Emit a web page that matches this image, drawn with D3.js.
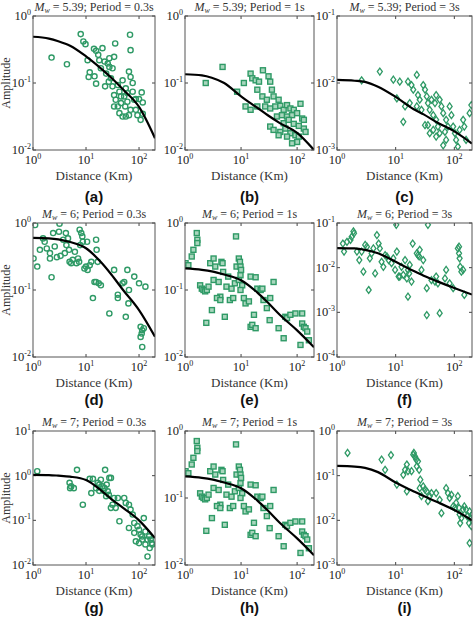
<!DOCTYPE html>
<html><head><meta charset="utf-8">
<script src="https://cdn.jsdelivr.net/npm/d3@7"></script>
<style>
body{margin:0;background:#fff}
.sf{font-family:"Liberation Serif","DejaVu Serif","Times New Roman",serif}
.lt{font-family:"Liberation Sans",Arial,sans-serif;font-weight:bold}
</style>
</head><body>
<svg id="fig" width="474" height="618"></svg>
<script>
/* Scatter data: [log10 distance, log10 amplitude] */
const ptsA = [[0.35,-0.62],[0.64,-0.72],[0.90,-0.27],[0.95,-0.38],[0.99,-0.42],[1.03,-0.66],[1.07,-0.84],[1.05,-0.91],[1.15,-0.49],[1.19,-0.52],[1.23,-0.58],[1.25,-0.66],[1.19,-1.01],[1.16,-0.90],[1.31,-0.48],[1.28,-0.78],[1.35,-0.68],[1.41,-0.71],[1.44,-0.63],[1.44,-0.76],[1.38,-0.86],[1.36,-1.05],[1.43,-0.98],[1.50,-0.78],[1.53,-0.61],[1.55,-0.41],[1.47,-0.93],[1.50,-1.05],[1.53,-1.18],[1.60,-1.03],[1.56,-1.25],[1.63,-1.13],[1.66,-1.30],[1.69,-0.96],[1.72,-1.20],[1.75,-1.08],[1.78,-1.28],[1.74,-1.35],[1.81,-0.83],[1.84,-0.91],[1.88,-1.00],[1.83,-0.28],[1.84,-0.51],[1.78,-1.15],[1.88,-1.13],[1.91,-1.25],[1.94,-1.40],[1.63,-1.45],[1.69,-1.50],[1.75,-1.50],[1.81,-1.48],[1.94,-1.24],[2.00,-1.24],[2.05,-1.14],[2.07,-1.29],[2.03,-1.55],[2.07,-1.46],[1.97,-1.48],[1.84,-1.40],[1.53,-1.35],[1.60,-1.35],[1.66,-1.20]];
const ptsB = [[0.37,-1.00],[0.67,-0.76],[0.93,-1.13],[1.05,-1.00],[1.17,-0.86],[1.20,-0.93],[1.26,-0.96],[1.32,-0.98],[1.39,-0.81],[1.49,-0.90],[1.52,-0.98],[1.29,-1.10],[1.38,-1.20],[1.46,-1.25],[1.55,-1.10],[1.58,-1.20],[1.67,-1.25],[1.08,-1.35],[1.17,-1.40],[1.29,-1.35],[1.43,-1.35],[1.52,-1.38],[1.61,-1.35],[1.70,-1.34],[1.76,-1.40],[1.82,-1.33],[1.88,-1.38],[1.94,-1.40],[2.06,-1.31],[1.64,-1.50],[1.73,-1.48],[1.82,-1.50],[1.91,-1.48],[2.00,-1.45],[2.09,-1.53],[2.12,-1.68],[1.52,-1.65],[1.58,-1.70],[1.70,-1.73],[1.79,-1.68],[1.88,-1.75],[1.97,-1.78],[2.03,-1.80],[2.15,-1.73],[1.76,-1.60],[1.85,-1.55],[1.94,-1.61],[2.03,-1.64],[1.67,-1.78],[1.82,-1.80],[2.00,-1.88],[1.91,-1.90],[2.12,-1.55]];
const ptsC = [[0.42,-1.96],[0.73,-1.83],[0.96,-1.95],[1.07,-1.98],[1.02,-2.23],[1.13,-2.58],[1.16,-2.35],[1.21,-1.98],[1.27,-2.03],[1.30,-2.10],[1.36,-1.88],[1.38,-2.18],[1.24,-2.30],[1.41,-2.25],[1.47,-2.03],[1.50,-2.10],[1.53,-2.20],[1.55,-2.30],[1.58,-2.40],[1.44,-2.40],[1.36,-2.35],[1.61,-2.25],[1.67,-2.30],[1.69,-2.18],[1.75,-2.25],[1.78,-2.35],[1.81,-2.45],[1.86,-2.55],[1.89,-2.65],[1.84,-2.73],[1.64,-2.48],[1.69,-2.55],[1.72,-2.65],[1.75,-2.75],[1.69,-2.80],[1.64,-2.70],[1.55,-2.63],[1.50,-2.63],[1.58,-2.75],[1.92,-2.35],[1.95,-2.48],[1.98,-2.65],[2.01,-2.75],[2.03,-2.85],[1.86,-2.85],[1.81,-2.93],[2.09,-2.70],[2.15,-2.55],[2.17,-2.65],[2.20,-2.85],[2.26,-2.45],[2.29,-2.33],[2.06,-2.95]];
const ptsD = [[0.01,-0.53],[0.04,-0.03],[0.08,-0.65],[0.13,-0.40],[0.19,-0.23],[0.22,-0.28],[0.26,-0.38],[0.32,-0.45],[0.32,-0.53],[0.35,-0.81],[0.38,-0.15],[0.41,-0.35],[0.45,-0.51],[0.49,-0.13],[0.50,-0.01],[0.52,-0.49],[0.57,-0.25],[0.60,-0.45],[0.62,-0.15],[0.63,-0.33],[0.66,-0.23],[0.68,-0.40],[0.69,-0.58],[0.72,-0.60],[0.75,-0.55],[0.79,-0.43],[0.82,-0.60],[0.85,-0.53],[0.87,-0.58],[0.88,-0.10],[0.89,-0.33],[0.91,-0.15],[0.93,-0.20],[0.94,-0.28],[0.97,-0.68],[1.00,-0.65],[1.02,-0.28],[1.03,-0.70],[1.07,-0.63],[1.10,-0.58],[1.19,-0.25],[1.20,-0.40],[1.22,-0.58],[1.16,-0.88],[1.19,-0.88],[1.24,-0.90],[1.28,-0.93],[1.13,-1.12],[1.44,-1.35],[1.53,-0.70],[1.60,-1.07],[1.60,-1.12],[1.69,-0.90],[1.72,-0.88],[1.75,-1.40],[1.78,-0.70],[1.81,-1.00],[1.80,-1.20],[1.91,-0.80],[2.00,-0.90],[2.12,-0.95],[2.03,-1.55],[2.05,-1.65],[2.06,-1.60],[2.03,-1.70],[2.06,-1.85],[2.09,-1.57]];
const ptsE = [[0.01,-0.60],[0.06,-0.63],[0.12,-0.50],[0.15,-0.40],[0.21,-0.15],[0.22,-0.25],[0.22,-0.30],[0.27,-0.93],[0.30,-0.98],[0.33,-1.00],[0.36,-1.02],[0.39,-1.00],[0.38,-1.49],[0.42,-0.95],[0.45,-0.60],[0.48,-1.30],[0.51,-0.53],[0.54,-0.65],[0.51,-0.85],[0.60,-0.88],[0.63,-1.10],[0.57,-1.12],[0.65,-0.58],[0.67,-0.60],[0.68,-0.73],[0.63,-1.15],[0.71,-1.40],[0.74,-0.95],[0.77,-0.80],[0.80,-1.15],[0.83,-0.98],[0.86,-1.12],[0.89,-0.90],[0.91,-0.20],[0.92,-0.65],[0.96,-0.53],[0.98,-0.58],[0.99,-0.65],[1.00,-0.70],[0.99,-0.78],[0.96,-0.85],[1.02,-0.93],[0.99,-1.00],[1.05,-1.12],[1.08,-1.20],[1.14,-1.17],[1.17,-0.80],[1.26,-0.81],[1.29,-0.98],[1.35,-1.00],[1.38,-0.98],[1.40,-1.15],[1.52,-1.12],[1.46,-1.27],[1.58,-0.88],[1.23,-1.37],[1.17,-1.55],[1.20,-1.52],[1.26,-1.57],[1.51,-1.45],[1.67,-1.57],[1.76,-1.72],[1.79,-1.40],[1.82,-1.42],[1.88,-1.37],[1.97,-1.35],[2.09,-1.35],[2.09,-1.50],[2.12,-1.55],[2.15,-1.57],[2.06,-1.82],[2.21,-1.75],[2.18,-1.62]];
const ptsF = [[0.10,-1.46],[0.12,-1.64],[0.17,-1.42],[0.23,-1.38],[0.25,-1.31],[0.28,-1.19],[0.29,-1.23],[0.34,-1.64],[0.38,-1.83],[0.42,-1.64],[0.45,-2.09],[0.48,-1.49],[0.51,-1.53],[0.54,-2.50],[0.56,-1.79],[0.59,-1.68],[0.62,-1.57],[0.65,-2.13],[0.68,-1.27],[0.71,-1.46],[0.73,-1.57],[0.76,-1.87],[0.79,-1.98],[0.82,-1.72],[0.85,-1.75],[0.88,-1.83],[0.93,-1.90],[0.96,-1.79],[0.99,-2.05],[1.01,-1.04],[1.02,-1.64],[1.05,-2.20],[1.07,-2.20],[1.10,-1.98],[1.13,-2.16],[1.16,-1.83],[1.19,-2.24],[1.21,-2.05],[1.23,-2.13],[1.24,-1.94],[1.27,-2.31],[1.21,-2.65],[1.29,-1.46],[1.36,-1.68],[1.38,-1.72],[1.40,-1.75],[1.41,-1.60],[1.44,-2.05],[1.47,-1.83],[1.53,-3.06],[1.55,-1.04],[1.53,-2.46],[1.61,-2.28],[1.67,-2.31],[1.69,-2.20],[1.72,-2.35],[1.75,-3.02],[1.84,-2.24],[1.86,-2.05],[1.92,-2.35],[1.98,-2.46],[2.06,-1.57],[2.08,-1.68],[2.09,-1.79],[2.10,-1.98],[2.12,-2.09],[2.15,-2.05],[2.17,-2.61],[2.08,-1.53]];
const ptsG = [[0.08,0.10],[0.69,-0.16],[0.72,-0.24],[0.70,-0.28],[0.77,-0.28],[0.83,0.13],[0.94,-0.65],[1.07,-0.07],[1.13,-0.07],[1.10,-0.39],[1.19,-0.28],[1.22,-0.16],[1.25,-0.20],[1.28,-0.09],[1.31,-0.24],[1.35,-0.28],[1.36,0.13],[1.39,-0.20],[1.41,-0.35],[1.43,-0.43],[1.38,-0.46],[1.33,-0.34],[1.25,-0.34],[1.44,-0.05],[1.47,-0.05],[1.50,-0.65],[1.47,-0.72],[1.53,-0.50],[1.56,-0.72],[1.60,-0.50],[1.63,-1.02],[1.72,-0.50],[1.81,-0.65],[1.75,-0.61],[1.84,-0.76],[1.88,-0.87],[1.91,-1.06],[1.81,-1.17],[1.91,-1.28],[1.94,-1.47],[1.97,-1.13],[2.00,-1.21],[2.03,-1.32],[2.06,-1.36],[2.09,-0.95],[2.12,-1.25],[2.16,-1.43],[2.12,-1.54],[2.19,-1.36],[2.22,-1.43],[2.24,-1.51],[2.20,-1.62],[2.16,-1.81],[2.25,-1.54],[2.00,-1.51],[2.06,-1.43]];
const ptsH = ptsE;
const ptsI = [[0.18,-0.49],[0.76,-0.64],[0.82,-0.87],[0.92,-0.54],[1.02,-1.20],[1.13,-0.98],[1.16,-0.87],[1.19,-0.75],[1.21,-0.90],[1.19,-1.35],[1.27,-0.90],[1.30,-0.53],[1.31,-0.49],[1.33,-0.57],[1.35,-0.64],[1.36,-0.79],[1.38,-0.68],[1.40,-0.87],[1.42,-1.09],[1.41,-1.28],[1.44,-1.46],[1.47,-1.24],[1.50,-1.31],[1.53,-1.35],[1.55,-1.57],[1.58,-1.46],[1.61,-1.39],[1.69,-1.39],[1.75,-1.54],[1.78,-1.84],[1.86,-1.28],[1.89,-1.39],[1.92,-1.50],[1.95,-1.43],[1.98,-1.69],[2.01,-1.72],[2.03,-1.61],[2.06,-1.46],[2.08,-1.72],[2.09,-1.87],[2.10,-2.06],[2.12,-1.95],[2.15,-1.76],[2.17,-1.69],[2.20,-1.76],[2.22,-1.91],[2.25,-2.06],[2.26,-1.80],[2.29,-2.13],[2.28,-1.95],[2.26,-2.51],[2.30,-1.87]];

/* Fitted curves: distances (km) and amplitudes */
const curveDist = [1, 2, 3, 5, 10, 20, 30, 50, 100, 200];
const curveA = [0.49, 0.46, 0.42, 0.36, 0.25, 0.16, 0.12, 0.08, 0.044, 0.015];
const curveB = [0.135, 0.13, 0.12, 0.1, 0.063, 0.042, 0.033, 0.025, 0.018, 0.01];
const curveC = [0.0111, 0.0108, 0.0104, 0.0088, 0.0062, 0.0041, 0.0034, 0.0026, 0.0019, 0.00125];
const curveD = [0.6, 0.59, 0.57, 0.52, 0.42, 0.25, 0.17, 0.1, 0.05, 0.02];
const curveE = [0.21, 0.2, 0.19, 0.17, 0.14, 0.09, 0.065, 0.042, 0.025, 0.014];
const curveF = [0.0275, 0.027, 0.025, 0.021, 0.0135, 0.0085, 0.0066, 0.005, 0.0035, 0.0025];
const curveG = [1.04, 1.03, 1.0, 0.95, 0.8, 0.45, 0.3, 0.19, 0.1, 0.04];
const curveI = [0.165, 0.16, 0.15, 0.12, 0.07, 0.045, 0.035, 0.026, 0.017, 0.01];

const titleMw = ["5.39", "5.39", "5.39", "6", "6", "6", "7", "7", "7"];
const titlePeriod = ["0.3s", "1s", "3s", "0.3s", "1s", "3s", "0.3s", "1s", "3s"];
const panelLetters = ["(a)", "(b)", "(c)", "(d)", "(e)", "(f)", "(g)", "(h)", "(i)"];
const yExpRanges = [[-2, 0], [-2, 0], [-3, -1], [-2, 0], [-2, 0], [-4, -1], [-2, 1], [-2, 0], [-3, 0]];
const xExpTicks = [0, 1, 2];

const allPts = [ptsA, ptsB, ptsC, ptsD, ptsE, ptsF, ptsG, ptsH, ptsI];
const allCurves = [curveA, curveB, curveC, curveD, curveE, curveF, curveG, curveE, curveI];
const markers = ["circle", "square", "diamond"];

/* Layout */
const colX = [[33, 155], [185, 314], [337, 472]];
const rowY = [[16, 150], [223, 357], [431, 565]];
const green = "#2f9a66";

const svg = d3.select("#fig");

function expLabel(sel, e) {
    sel.append("tspan").text("10");
    sel.append("tspan").attr("dy", -5).style("font-size", "8px").text(e);
}

allPts.forEach((pts, i) => {
    const c = i % 3, r = Math.floor(i / 3);
    const [x0, x1] = colX[c], [y0, y1] = rowY[r];
    const [ylo, yhi] = yExpRanges[i];
    const x = d3.scaleLog().domain([1, 200]).range([x0, x1]);
    const y = d3.scaleLog().domain([Math.pow(10, ylo), Math.pow(10, yhi)]).range([y1, y0]);
    const g = svg.append("g");

    g.append("defs").append("clipPath").attr("id", "clip" + i)
        .append("rect").attr("x", x0).attr("y", y0).attr("width", x1 - x0).attr("height", y1 - y0);

    /* ticks inward on all sides */
    const yTicks = d3.range(ylo, yhi + 1);
    xExpTicks.forEach(e => {
        const px = x(Math.pow(10, e));
        g.append("line").attr("x1", px).attr("x2", px).attr("y1", y1).attr("y2", y1 - 3).attr("stroke", "#444");
        g.append("line").attr("x1", px).attr("x2", px).attr("y1", y0).attr("y2", y0 + 3).attr("stroke", "#444");
        const t = g.append("text").attr("class", "sf").attr("x", px).attr("y", y1 + 14).attr("text-anchor", "middle")
            .style("font-size", "12.5px").attr("fill", "#222");
        expLabel(t, e);
    });
    yTicks.forEach(e => {
        const py = y(Math.pow(10, e));
        g.append("line").attr("x1", x0).attr("x2", x0 + 3).attr("y1", py).attr("y2", py).attr("stroke", "#444");
        g.append("line").attr("x1", x1).attr("x2", x1 - 3).attr("y1", py).attr("y2", py).attr("stroke", "#444");
        const t = g.append("text").attr("class", "sf").attr("x", x0 - 2).attr("y", py + 4).attr("text-anchor", "end")
            .style("font-size", "12.5px").attr("fill", "#222");
        expLabel(t, e);
    });

    /* scatter */
    const pg = g.append("g").attr("clip-path", `url(#clip${i})`);
    const kind = markers[c];
    pts.forEach(p => {
        const px = x(Math.pow(10, p[0])), py = y(Math.pow(10, p[1]));
        if (kind === "circle") {
            pg.append("circle").attr("cx", px).attr("cy", py).attr("r", 2.6)
                .attr("fill", "none").attr("stroke", green).attr("stroke-width", 1.4);
        } else if (kind === "square") {
            pg.append("rect").attr("x", px - 2.5).attr("y", py - 2.5).attr("width", 5).attr("height", 5)
                .attr("fill", "#a9d6bd").attr("stroke", green).attr("stroke-width", 1.4);
        } else {
            pg.append("path").attr("d", `M${px},${py - 3.5}L${px + 2.5},${py}L${px},${py + 3.5}L${px - 2.5},${py}Z`)
                .attr("fill", "none").attr("stroke", green).attr("stroke-width", 1.3);
        }
    });

    /* fitted curve */
    const line = d3.line().x(d => x(d[0])).y(d => y(d[1])).curve(d3.curveMonotoneX);
    pg.append("path").datum(curveDist.map((d, k) => [d, allCurves[i][k]]))
        .attr("d", line).attr("fill", "none").attr("stroke", "#000").attr("stroke-width", 2.2);

    /* frame */
    g.append("rect").attr("x", x0).attr("y", y0).attr("width", x1 - x0).attr("height", y1 - y0)
        .attr("fill", "none").attr("stroke", "#555").attr("stroke-width", 1);

    /* title */
    const cx = (x0 + x1) / 2;
    const tt = g.append("text").attr("class", "sf").attr("x", cx).attr("y", y0 - 5).attr("text-anchor", "middle")
        .style("font-size", "12px").attr("fill", "#333");
    tt.append("tspan").style("font-style", "italic").text("M");
    tt.append("tspan").attr("dy", 2).style("font-size", "8px").style("font-style", "italic").text("w");
    tt.append("tspan").attr("dy", -2).text(` = ${titleMw[i]}; Period = ${titlePeriod[i]}`);

    /* x label */
    g.append("text").attr("class", "sf").attr("x", cx).attr("y", y1 + 30).attr("text-anchor", "middle")
        .style("font-size", "13px").attr("fill", "#333").text("Distance (Km)");

    /* panel letter */
    g.append("text").attr("class", "lt").attr("x", cx).attr("y", y1 + (r === 0 ? 52 : 48)).attr("text-anchor", "middle")
        .style("font-size", "15px").attr("fill", "#111").text(panelLetters[i]);

    /* y label */
    if (c === 0) {
        g.append("text").attr("class", "sf").attr("transform", `translate(10,${(y0 + y1) / 2}) rotate(-90)`)
            .attr("text-anchor", "middle").style("font-size", "12px").attr("fill", "#333").text("Amplitude");
    }
});
</script>
</body></html>
